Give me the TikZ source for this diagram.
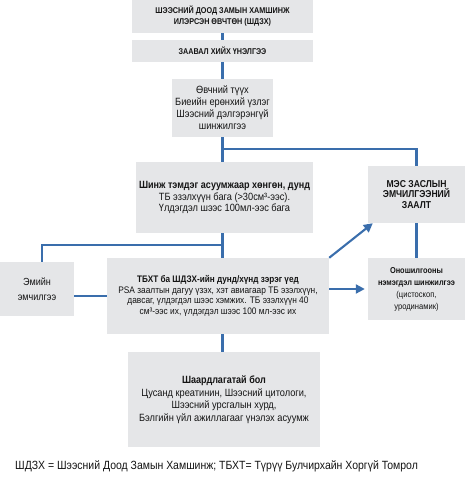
\documentclass[tikz,border=0pt]{standalone}
\usepackage{fontspec}
\setmainfont{Liberation Sans}[FakeStretch=0.88, BoldFeatures={FakeStretch=0.86}]
\usetikzlibrary{arrows.meta}
\definecolor{boxgray}{RGB}{229,230,232}
\definecolor{lineblue}{RGB}{58,110,172}
\definecolor{txt}{RGB}{20,20,20}
\tikzset{
  box/.style={fill=boxgray, draw=none, align=center, inner sep=2pt, text=txt,
    font=\fontsize{10.5}{12}\selectfont},
  capbox/.style={box, font=\bfseries\fontsize{8.4}{11}\selectfont},
  conn/.style={draw=lineblue, line width=2.1pt},
  arr/.style={conn, -{Triangle[length=9pt,width=9pt]}},
}
\begin{document}
\begin{tikzpicture}[x=1pt,y=-1pt]
\useasboundingbox (0,0) rectangle (474,499);
\node[capbox, minimum width=181, minimum height=33] (b1) at (222.5,16.5)
  {ШЭЭСНИЙ ДООД ЗАМЫН ХАМШИНЖ\\ИЛЭРСЭН ӨВЧТӨН (ШДЗХ)};
\node[capbox, minimum width=181, minimum height=22] (b2) at (222.5,51)
  {ЗААВАЛ ХИЙХ ҮНЭЛГЭЭ};
\node[box, minimum width=101, minimum height=58] (b3) at (222.5,108)
  {Өвчний түүх\\Биеийн ерөнхий үзлэг\\Шээсний дэлгэрэнгүй\\шинжилгээ};
\node[box, minimum width=177, minimum height=71, font=\fontsize{10.5}{11.5}\selectfont] (b4) at (224.5,197.5)
  {\textbf{Шинж тэмдэг асуумжаар хөнгөн, дунд}\\ТБ эзэлхүүн бага (>30см³-ээс).\\Үлдэгдэл шээс 100мл-ээс бага};
\node[box, minimum width=222, minimum height=76, font=\fontsize{9.5}{10.8}\selectfont] (b5) at (218,296)
  {\textbf{ТБХТ ба ШДЗХ-ийн дунд/хүнд зэрэг үед}\\PSA заалтын дагуу үзэх, хэт авиагаар ТБ эзэлхүүн,\\давсаг, үлдэгдэл шээс хэмжих. ТБ эзэлхүүн 40\\см³-ээс их, үлдэгдэл шээс 100 мл-ээс их};
\node[box, minimum width=192, minimum height=95, font=\fontsize{10.5}{12.6}\selectfont] (b6) at (224,399.5)
  {\textbf{Шаардлагатай бол}\\Цусанд креатинин, Шээсний цитологи,\\Шээсний урсгалын хурд,\\Бэлгийн үйл ажиллагааг үнэлэх асуумж};
\node[box, minimum width=74, minimum height=54, font=\fontsize{10.3}{15}\selectfont] (em) at (37,289)
  {Эмийн\\эмчилгээ};
\node[box, minimum width=97, minimum height=57, font=\bfseries\fontsize{10}{10.5}\selectfont] (mes) at (416.5,194.5)
  {МЭС ЗАСЛЫН\\ЭМЧИЛГЭЭНИЙ\\ЗААЛТ};
\node[box, minimum width=97, minimum height=62, font=\fontsize{8.6}{12}\selectfont] (on) at (416.5,289)
  {\textbf{Оношилгооны}\\\textbf{нэмэгдэл шинжилгээ}\\(цистоскоп,\\уродинамик)};
\node[anchor=west, text=txt, inner sep=0pt, font=\fontsize{11.9}{13}\selectfont] (fn) at (15,466)
  {ШДЗХ = Шээсний Доод Замын Хамшинж; ТБХТ= Түрүү Булчирхайн Хоргүй Томрол};
\coordinate (j1) at (222.5,149);
\coordinate (j2) at (222.5,245);
\coordinate (emtop) at (42,262);
\draw[conn] (b1) -- (b2);
\draw[conn] (b2) -- (b3);
\draw[conn] (b3.south) -- (b3.south |- b4.north);
\draw[conn] (j1) -| (mes.north);
\draw[conn] (mes.south) -- (on.north);
\draw[conn] (b4.south -| j2) -- (b5.north -| j2);
\draw[conn] (j2) -| (emtop);
\draw[conn] (em.east |- b5.west) -- (b5.west);
\draw[arr] (b5.east |- on.west) -- ([xshift=-3]on.west);
\draw[arr] (b5.north east) -- ([xshift=5]mes.south west);
\draw[conn] (b5.south -| j2) -- (b6.north -| j2);
\end{tikzpicture}
\end{document}
